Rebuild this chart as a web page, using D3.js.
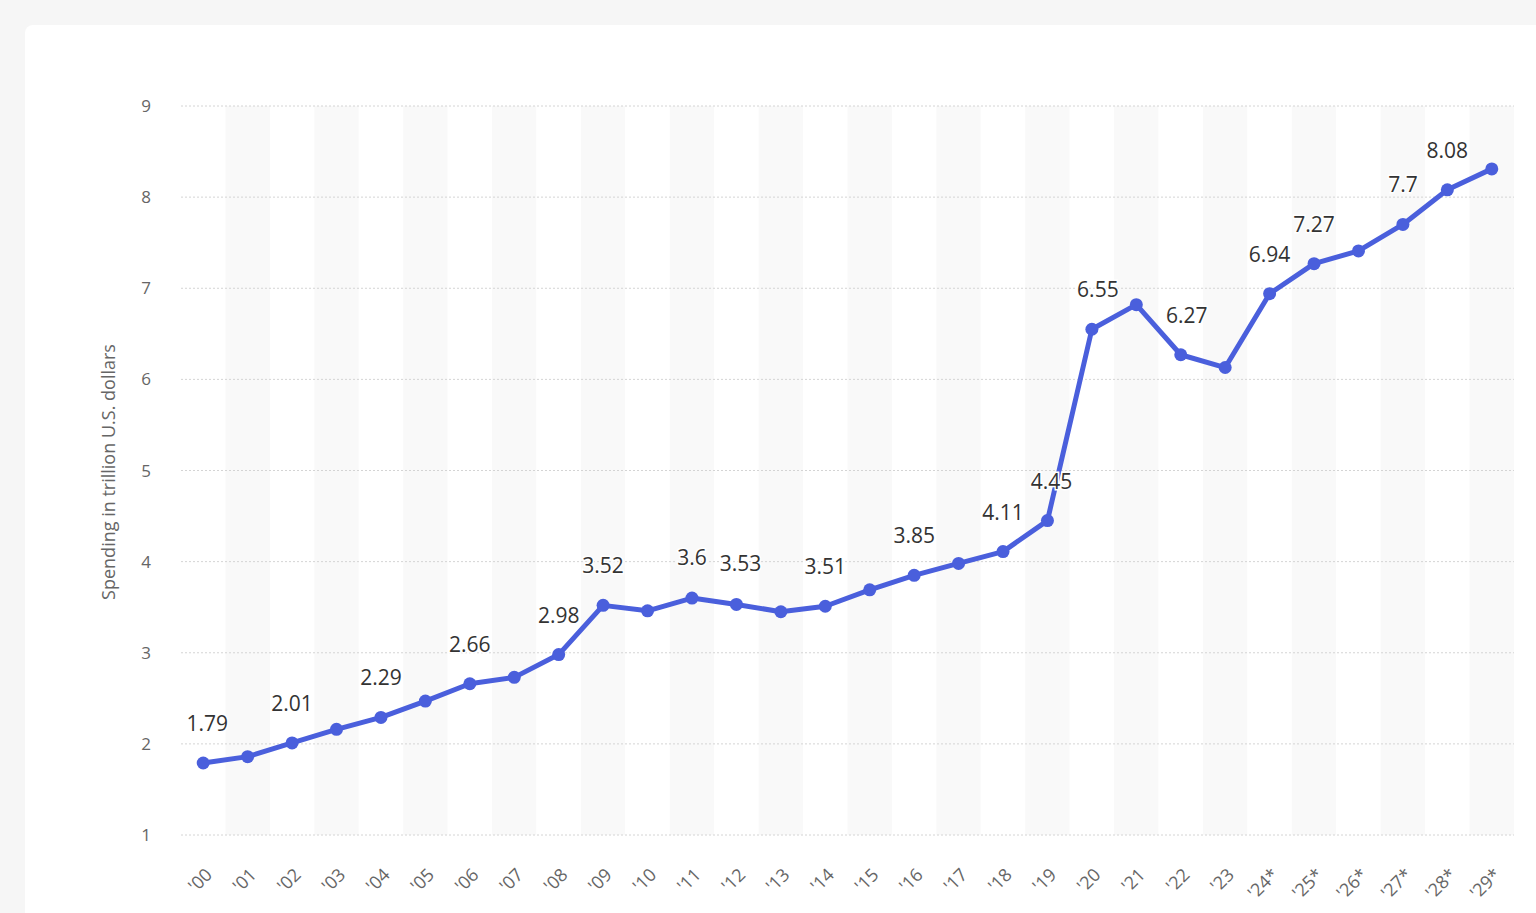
<!DOCTYPE html>
<html><head><meta charset="utf-8">
<script src="https://cdn.jsdelivr.net/npm/d3@7"></script>
<style>
body{margin:0;background:#f6f6f6;font-family:"Open Sans",sans-serif;overflow:hidden}
</style></head>
<body>
<svg id="chart" width="1536" height="913"></svg>
<script>
var years = ["'00","'01","'02","'03","'04","'05","'06","'07","'08","'09","'10","'11","'12","'13","'14","'15","'16","'17","'18","'19","'20","'21","'22","'23","'24*","'25*","'26*","'27*","'28*","'29*"];
var spending = [1.79,1.86,2.01,2.16,2.29,2.47,2.66,2.73,2.98,3.52,3.46,3.6,3.53,3.45,3.51,3.69,3.85,3.98,4.11,4.45,6.55,6.82,6.27,6.13,6.94,7.27,7.41,7.7,8.08,8.31];
var labelled = [0,2,4,6,8,9,11,12,14,16,18,19,20,22,24,25,27,28];
var yTicks = [1,2,3,4,5,6,7,8,9];

var svg = d3.select("#chart");
svg.append("rect").attr("x",25).attr("y",25).attr("width",1540).attr("height",920).attr("rx",8).attr("fill","#fff");

var x = d3.scaleBand().domain(years).range([181,1514]);
var y = d3.scaleLinear().domain([1,9]).range([835,106]);

// alternating columns
svg.selectAll(".band").data(years).enter().append("rect")
  .attr("x",d=>x(d)).attr("y",y(9)).attr("width",x.bandwidth()).attr("height",y(1)-y(9))
  .attr("fill",(d,i)=>i%2?"#f9f9f9":"#fff");

// grid
svg.selectAll(".grid").data(yTicks).enter().append("line")
  .attr("x1",181).attr("x2",1514).attr("y1",d=>y(d)).attr("y2",d=>y(d))
  .attr("stroke","#d4d4d4").attr("stroke-dasharray","2,2");

svg.selectAll(".ytick").data(yTicks).enter().append("text")
  .attr("x",151).attr("y",d=>y(d)+6).attr("text-anchor","end")
  .attr("font-size",17).attr("fill","#666").text(d=>d);

svg.append("text").attr("transform","translate(115,472) rotate(-90)")
  .attr("text-anchor","middle").attr("font-size",18).attr("fill","#666")
  .text("Spending in trillion U.S. dollars");

svg.selectAll(".xtick").data(years).enter().append("text")
  .attr("transform",d=>"translate("+(x(d)+x.bandwidth()/2+10)+",876) rotate(-45)")
  .attr("text-anchor","end").attr("font-size",18).attr("fill","#666").text(d=>d);

var cx = (d,i)=>x(years[i])+x.bandwidth()/2;
var line = d3.line().x(cx).y(d=>y(d));
svg.append("path").datum(spending).attr("d",line).attr("fill","none")
  .attr("stroke","#4a5fdc").attr("stroke-width",5).attr("stroke-linejoin","round");
svg.selectAll(".dot").data(spending).enter().append("circle")
  .attr("cx",cx).attr("cy",d=>y(d)).attr("r",6.5).attr("fill","#4a5fdc");

svg.selectAll(".lbl").data(labelled).enter().append("text")
  .attr("x",i=>cx(spending[i],i)+(i==19?4:i==12?4:i==20?6:i==22?6:i==0?4:0))
  .attr("y",i=>y(spending[i])-(i==11?33:i==12?33:32))
  .attr("text-anchor","middle").attr("font-size",21).attr("fill","#333")
  .attr("stroke","#fff").attr("stroke-width",3).attr("paint-order","stroke")
  .text(i=>spending[i]);
</script>
</body></html>
